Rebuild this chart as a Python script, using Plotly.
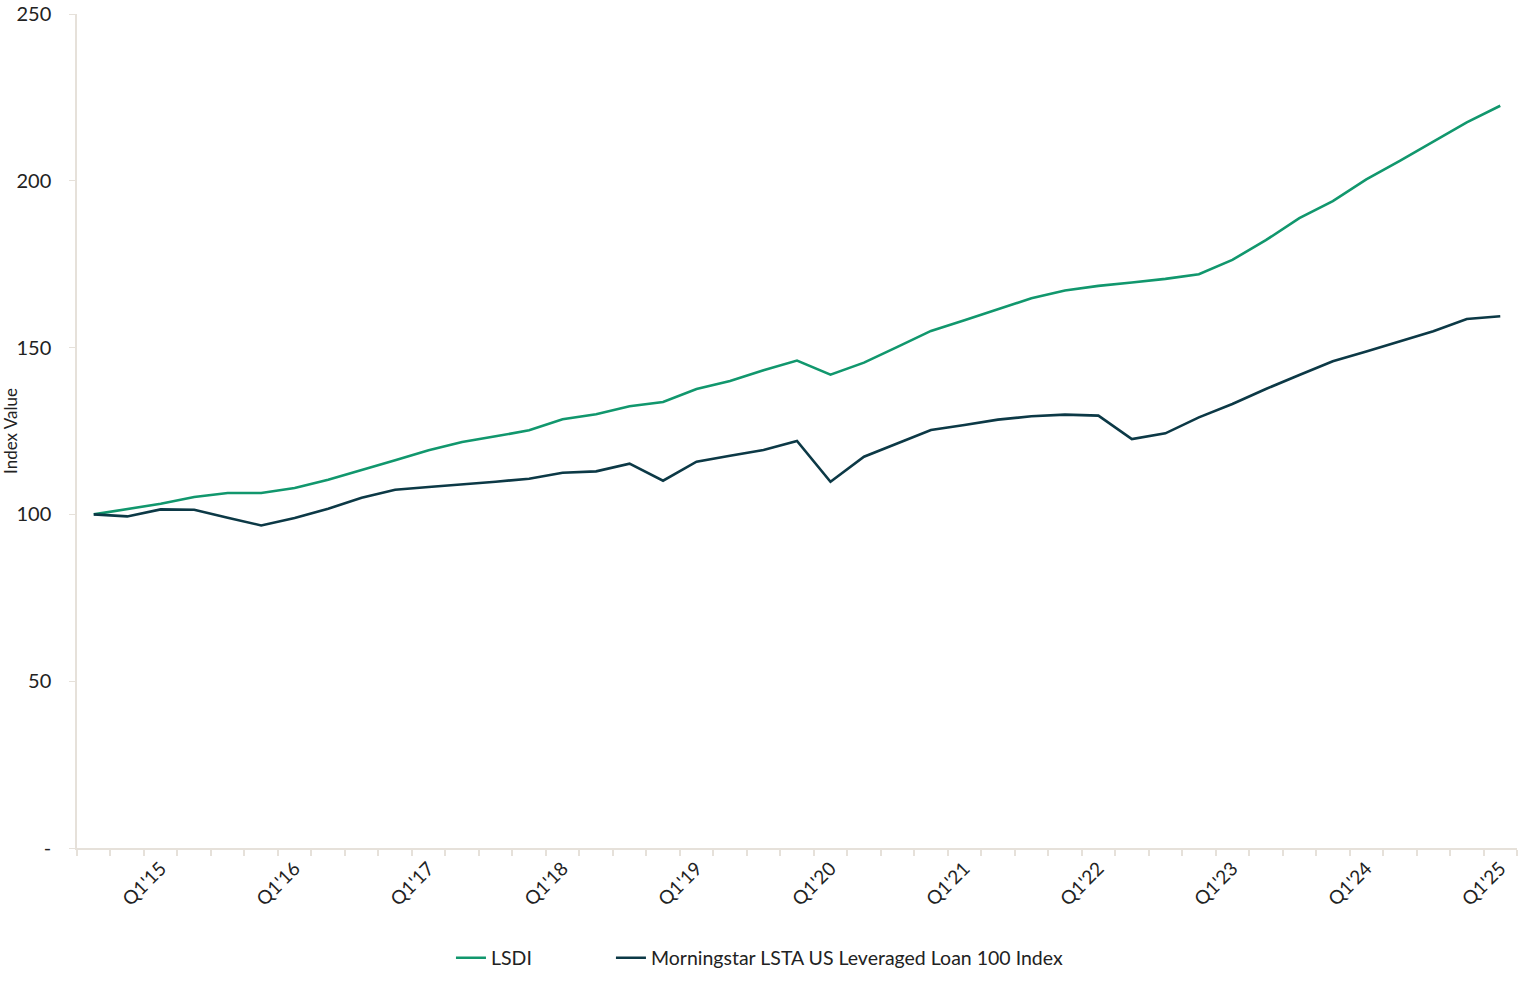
import plotly.graph_objects as go

quarters = [
    "Q3'14", "Q4'14",
    "Q1'15", "Q2'15", "Q3'15", "Q4'15",
    "Q1'16", "Q2'16", "Q3'16", "Q4'16",
    "Q1'17", "Q2'17", "Q3'17", "Q4'17",
    "Q1'18", "Q2'18", "Q3'18", "Q4'18",
    "Q1'19", "Q2'19", "Q3'19", "Q4'19",
    "Q1'20", "Q2'20", "Q3'20", "Q4'20",
    "Q1'21", "Q2'21", "Q3'21", "Q4'21",
    "Q1'22", "Q2'22", "Q3'22", "Q4'22",
    "Q1'23", "Q2'23", "Q3'23", "Q4'23",
    "Q1'24", "Q2'24", "Q3'24", "Q4'24",
    "Q1'25",
]

lsdi = [
    100.0, 101.7,
    103.2, 105.2, 106.4, 106.4,
    107.9, 110.4, 113.2, 116.2,
    119.2, 121.7, 123.4, 125.2,
    128.5, 130.0, 132.4, 133.7,
    137.6, 140.0, 143.2, 146.1,
    141.9, 145.5, 150.2, 155.0,
    158.2, 161.6, 164.8, 167.1,
    168.5, 169.5, 170.6, 172.0,
    176.3, 182.2, 188.8, 193.9,
    200.4, 206.0, 211.7, 217.5,
    222.5,
]

lsta = [
    100.0, 99.4,
    101.5, 101.4, 99.0, 96.7,
    98.9, 101.7, 105.0, 107.4,
    108.2, 108.9, 109.8, 110.7,
    112.5, 112.9, 115.2, 110.1,
    115.8, 117.6, 119.3, 122.0,
    109.8, 117.3, 121.3, 125.3,
    126.8, 128.4, 129.4, 129.9,
    129.6, 122.6, 124.3, 129.1,
    133.1, 137.6, 141.8, 145.9,
    148.8, 151.9, 154.9, 158.6,
    159.4,
]

series_names = ["LSDI", "Morningstar LSTA US Leveraged Loan 100 Index"]
y_tick_vals = [0, 50, 100, 150, 200, 250]
y_tick_text = ["-", "50", "100", "150", "200", "250"]
x_tick_text = [q if q.startswith("Q1") else "" for q in quarters]

GREEN = "#11976d"
DARK = "#0c3946"
AXIS = "#e6e1da"
TEXT = "#222222"
FONT = "Lato"

fig = go.Figure()
fig.add_trace(go.Scatter(x=quarters, y=lsdi, mode="lines", name=series_names[0],
                         line=dict(color=GREEN, width=2.6), legend="legend"))
fig.add_trace(go.Scatter(x=quarters, y=lsta, mode="lines", name=series_names[1],
                         line=dict(color=DARK, width=2.6), legend="legend2"))

legend_common = dict(orientation="h", xanchor="left", y=-0.132, yanchor="middle",
                     bgcolor="rgba(0,0,0,0)",
                     font=dict(family=FONT, size=19.5, color=TEXT))

fig.update_layout(
    width=1536, height=991,
    margin=dict(l=77, r=19, t=14, b=143, autoexpand=False),
    paper_bgcolor="white", plot_bgcolor="white",
    font=dict(family=FONT, size=18, color=TEXT),
    showlegend=True,
    legend=dict(x=0.2597, **legend_common),
    legend2=dict(x=0.3708, **legend_common),
    xaxis=dict(
        type="category",
        automargin=False,
        range=[-0.5, len(quarters) - 0.5],
        tickmode="array", tickvals=quarters, ticktext=x_tick_text,
        tickangle=-45, tickson="boundaries",
        ticks="outside", ticklen=6, tickwidth=1.5, tickcolor=AXIS,
        showline=True, linecolor=AXIS, linewidth=2,
        showgrid=False, zeroline=False,
        tickfont=dict(family=FONT, size=19, color=TEXT),
    ),
    yaxis=dict(
        automargin=False,
        range=[0, 250],
        tickmode="array", tickvals=y_tick_vals, ticktext=y_tick_text,
        ticks="outside", ticklen=6, tickwidth=1, tickcolor=AXIS,
        ticklabelstandoff=14,
        showline=True, linecolor=AXIS, linewidth=1.5,
        showgrid=False, zeroline=False,
        tickfont=dict(family=FONT, size=20, color=TEXT),
        title=dict(text="Index Value", font=dict(family=FONT, size=17, color=TEXT), standoff=5),
    ),
)

fig.write_html("out.html")
